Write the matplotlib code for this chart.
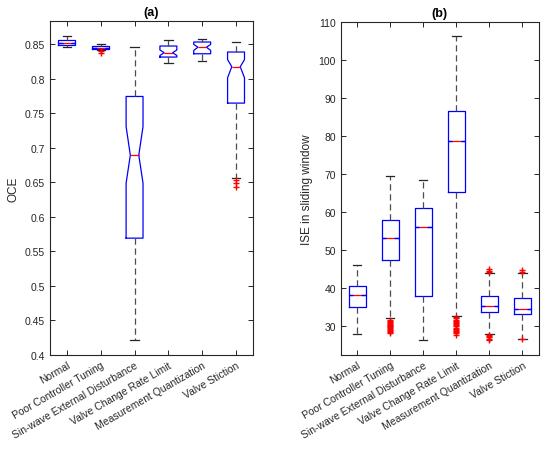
import numpy as np
import matplotlib.pyplot as plt
from matplotlib.ticker import FuncFormatter

plt.rcParams['font.family'] = ['Liberation Sans', 'DejaVu Sans']

categories = ["Normal", "Poor Controller Tuning", "Sin-wave External Disturbance",
              "Valve Change Rate Limit", "Measurement Quantization", "Valve Stiction"]

# (a) OCE box statistics
oce_whislo = [0.846, 0.842, 0.422, 0.8225, 0.826, 0.656]
oce_q1     = [0.8496, 0.8428, 0.5693, 0.8317, 0.8365, 0.765]
oce_med    = [0.8515, 0.845, 0.6895, 0.838, 0.846, 0.8177]
oce_q3     = [0.8568, 0.8477, 0.7746, 0.8477, 0.8535, 0.839]
oce_whishi = [0.862, 0.850, 0.8457, 0.8558, 0.858, 0.853]
oce_cilo   = [0.8515, 0.845, 0.649, 0.834, 0.8413, 0.8017]
oce_cihi   = [0.8515, 0.845, 0.731, 0.842, 0.850, 0.828]
oce_fliers = [[], [0.8405, 0.838], [], [], [], [0.653, 0.649, 0.643]]

# (b) ISE box statistics
ise_whislo = [28.1, 32.2, 26.5, 32.7, 27.9, 26.8]
ise_q1     = [35.1, 47.4, 37.9, 65.4, 33.8, 33.2]
ise_med    = [38.3, 53.2, 56.1, 78.7, 35.5, 34.5]
ise_q3     = [40.5, 57.9, 61.0, 86.6, 37.9, 37.5]
ise_whishi = [46.2, 69.6, 68.6, 106.3, 44.0, 44.1]
ise_fliers = [[],
              [28.2, 28.5, 28.8, 29.0, 29.3, 29.5, 29.8, 30.0, 30.2, 30.5, 30.7, 31.0, 31.2, 31.5, 31.8],
              [],
              [27.8, 28.2, 28.5, 28.8, 29.1, 29.4, 29.7, 30.0, 30.3, 30.6, 30.9, 31.2, 31.5, 31.8, 32.1, 32.4],
              [44.3, 44.6, 45.0, 27.7, 27.4, 27.1, 26.8, 26.4],
              [44.4, 44.8, 26.6]]


def make_stats(whislo, q1, med, q3, whishi, cilo, cihi, fliers):
    stats = []
    for i in range(len(med)):
        stats.append(dict(whislo=whislo[i], q1=q1[i], med=med[i], q3=q3[i], whishi=whishi[i],
                          cilo=cilo[i], cihi=cihi[i], fliers=np.array(fliers[i]), label=categories[i]))
    return stats


def draw(ax, stats):
    ax.bxp(stats, widths=0.5, capwidths=0.25, shownotches=True,
           boxprops=dict(color='blue', linewidth=0.9),
           medianprops=dict(color='red', linewidth=0.9),
           whiskerprops=dict(color='0.3', linewidth=0.9, linestyle=(0, (5, 3))),
           capprops=dict(color='0.15', linewidth=0.9),
           flierprops=dict(marker='+', markeredgecolor='red', markersize=5, markeredgewidth=1))
    ax.set_xlim(0.5, 6.5)
    ax.set_xticks(range(1, 7))
    ax.set_xticklabels(categories, rotation=30, ha='right', rotation_mode='anchor', fontsize=7.5,
                       color='0.15')
    ax.tick_params(direction='in', top=True, right=True, length=3.5, width=0.7, colors='0.15',
                   labelsize=7.5)
    for s in ax.spines.values():
        s.set_color('0.15')
        s.set_linewidth(0.8)


fig = plt.figure(figsize=(5.5, 4.52), dpi=100)

ax1 = fig.add_axes([0.0909, 0.2124, 0.369, 0.739])
draw(ax1, make_stats(oce_whislo, oce_q1, oce_med, oce_q3, oce_whishi, oce_cilo, oce_cihi, oce_fliers))
ax1.set_ylim(0.4, 0.884)
ax1.set_yticks(np.arange(0.4, 0.851, 0.05))
ax1.yaxis.set_major_formatter(FuncFormatter(lambda v, p: '%g' % round(v, 2)))
ax1.set_ylabel("OCE", fontsize=8.5, color='0.15')
ax1.set_title("(a)", fontsize=9, fontweight='bold', pad=4)

ax2 = fig.add_axes([0.6195, 0.2124, 0.3605, 0.7367])
draw(ax2, make_stats(ise_whislo, ise_q1, ise_med, ise_q3, ise_whishi, ise_med, ise_med, ise_fliers))
ax2.set_ylim(22.5, 110)
ax2.set_yticks(range(30, 111, 10))
ax2.set_ylabel("ISE in sliding window", fontsize=8.5, color='0.15')
ax2.set_title("(b)", fontsize=9, fontweight='bold', pad=4)

fig.savefig("out.png", dpi=100)
